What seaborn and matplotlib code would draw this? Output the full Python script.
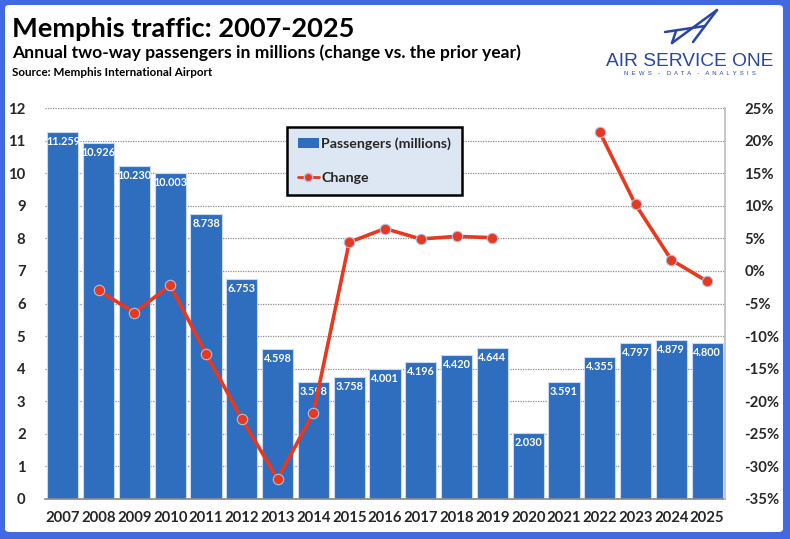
import numpy as np
import matplotlib.pyplot as plt
import seaborn as sns
from matplotlib.patches import FancyBboxPatch, Patch
from matplotlib.lines import Line2D
from matplotlib.ticker import FixedLocator, FuncFormatter

# data
years = [str(y) for y in range(2007, 2026)]
passengers = [11.259, 10.926, 10.230, 10.003, 8.738, 6.753, 4.598, 3.598, 3.758,
              4.001, 4.196, 4.420, 4.644, 2.030, 3.591, 4.355, 4.797, 4.879, 4.800]
# yearly change in %, 2007 has no prior year, 2020/2021 are off the scale
change = [np.nan, -3.0, -6.4, -2.2, -12.7, -22.7, -31.9, -21.8, 4.4, 6.5,
          4.9, 5.3, 5.1, np.nan, np.nan, 21.3, 10.2, 1.7, -1.6]

BAR = "#2F6DBF"
RED = "#E8391E"
FRAME = "#4169E1"
LOGO = "#2946A6"

sns.set_theme(style="white")
plt.rcParams["font.family"] = ["Lato", "DejaVu Sans"]

W, H = 790, 539
fig = plt.figure(figsize=(W / 100, H / 100), dpi=100)
fig.patch.set_facecolor(FRAME)
fig.add_artist(FancyBboxPatch((5 / W, 7 / H), 778 / W, 527 / H,
                              boxstyle="round,pad=0,rounding_size=0.006",
                              transform=fig.transFigure, fc="white", ec="none", zorder=0))

ax = fig.add_axes([45 / W, 40 / H, 680 / W, 391 / H])
ax.set_facecolor("white")

sns.barplot(x=years, y=passengers, color=BAR, saturation=1, width=0.87,
            edgecolor="#C9DAF0", linewidth=0.8, ax=ax, zorder=2)
ax.set_xlim(-0.5, len(years) - 0.5)
ax.set_ylim(0, 12)
ax.set_yticks(range(0, 13))
ax.set_axisbelow(True)
ax.yaxis.grid(True, linestyle=(0, (1, 1)), color="#8C8C8C", linewidth=0.9)
ax.set_xlabel("")
ax.set_ylabel("")

for p, v in zip(ax.patches, passengers):
    ax.annotate(f"{v:.3f}", (p.get_x() + p.get_width() / 2, p.get_height()),
                xytext=(0, -3), textcoords="offset points", ha="center", va="top",
                color="white", fontsize=7.8, fontweight="bold", zorder=5)

for s in ["top", "left", "right"]:
    ax.spines[s].set_visible(False)
ax.spines["bottom"].set_color("#8C8C8C")
ax.tick_params(axis="x", which="major", length=0, pad=9, labelsize=10.7)
ax.xaxis.set_minor_locator(FixedLocator(np.arange(-0.5, len(years), 1)))
ax.tick_params(axis="x", which="minor", length=5, color="#8C8C8C", direction="out")
ax.tick_params(axis="y", length=0, pad=14, labelsize=10.7)
for t in ax.get_xticklabels() + ax.get_yticklabels():
    t.set_fontweight("bold")

ax2 = ax.twinx()
ax2.plot(np.arange(len(years)), change, color=RED, lw=2.6, marker="o", ms=7.5,
         mfc=RED, mec="#A8C1E8", mew=0.8, zorder=4)
ax2.set_ylim(-35, 25)
ax2.set_yticks(range(-35, 30, 5))
ax2.yaxis.set_major_formatter(FuncFormatter(lambda v, _: f"{v:.0f}%"))
for s in ["top", "left", "bottom"]:
    ax2.spines[s].set_visible(False)
ax2.spines["right"].set_color("#BFBFBF")
ax2.tick_params(axis="y", length=0, pad=14, labelsize=10.7)
for t in ax2.get_yticklabels():
    t.set_fontweight("bold")

handles = [Patch(fc=BAR, ec="none"),
           Line2D([], [], color=RED, lw=2, marker="o", ms=6, mfc=RED, mec="#A8C1E8")]
leg = ax2.legend(handles, ["Passengers (millions)", "Change"], loc="upper left",
                 bbox_to_anchor=(0.356, 0.951), frameon=True, fancybox=False,
                 facecolor="#DDE7F4", edgecolor="black", framealpha=1,
                 prop={"weight": "bold", "size": 10.2}, handlelength=1.5,
                 handletextpad=0.15, labelspacing=1.55, borderpad=0.75,
                 borderaxespad=0)
leg.get_frame().set_linewidth(1.8)
leg.set_zorder(10)

# header text
fig.text(12 / W, 1 - 37 / H, "Memphis traffic: 2007-2025", fontsize=19.6,
         fontweight="bold", color="black", va="baseline")
fig.text(12 / W, 1 - 58 / H, "Annual two-way passengers in millions (change vs. the prior year)",
         fontsize=12.6, fontweight="bold", color="black", va="baseline")
fig.text(12 / W, 1 - 76 / H, "Source: Memphis International Airport", fontsize=8.4,
         fontweight="bold", color="black", va="baseline")

# logo
for (x0, y0, x1, y1) in [(672, 43, 717, 10), (717, 10, 693, 42), (665, 32, 705, 26),
                          (676, 31, 672, 43)]:
    fig.add_artist(Line2D([x0 / W, x1 / W], [1 - y0 / H, 1 - y1 / H], color=LOGO,
                          lw=1.8, transform=fig.transFigure, solid_capstyle="round"))
fig.text(690 / W, 1 - 65.5 / H, "AIR SERVICE ONE", fontsize=13.8, color=LOGO,
         family="Liberation Sans", ha="center", va="baseline")
fig.text(690 / W, 1 - 75.5 / H, "N  E  W  S    -    D  A  T  A    -    A  N  A  L  Y  S  I  S",
         fontsize=4.3, color=LOGO, family="Liberation Sans", ha="center", va="baseline")

fig.savefig("out.png", dpi=100, facecolor=fig.get_facecolor())
